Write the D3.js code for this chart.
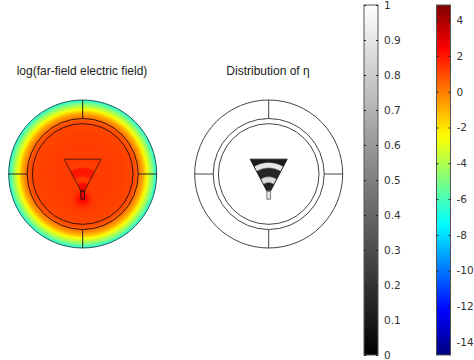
<!DOCTYPE html>
<html>
<head>
<meta charset="utf-8">
<script src="https://cdn.jsdelivr.net/npm/d3@7"></script>
<style>
  html, body { margin: 0; padding: 0; background: #fff; overflow: hidden; }
  svg { display: block; }
  .title { font-family: "Liberation Sans", Arial, sans-serif; font-size: 12px; fill: #222; }
  .tick text { font-family: "DejaVu Sans", sans-serif; font-size: 10.5px; fill: #333; }
</style>
</head>
<body>
<svg id="chart" width="474" height="360"></svg>
<script>
// chart text
const fieldTitle = 'log(far-field electric field)'
const etaTitle = 'Distribution of η'

// colour bars
const fieldTicks = [4, 2, 0, -2, -4, -6, -8, -10, -12, -14]
const etaTicks = [1, 0.9, 0.8, 0.7, 0.6, 0.5, 0.4, 0.3, 0.2, 0.1, 0]
const fieldRange = [-14.72, 4.85]
const jetColors = ['#00007f', '#0000ff', '#007fff', '#00ffff', '#7fff7f', '#ffff00', '#ff7f00', '#ff0000', '#7f0000']

const fieldRadius = [0, 0.5, 0.68, 0.72, 0.77, 0.82, 0.87, 0.93, 1]
const fieldValue = [1.25, 1.2, 1.05, 0.85, 0, -1, -2.6, -4.4, -6.8]

// hot spot under the feed, radius in disc units
const spotRadius = [0, 0.06, 0.12, 0.2]
const spotValue = [2.6, 2.2, 1.7, 1.2]
const spotOpacity = [1, 0.9, 0.5, 0]

// along the wedge: distance from the apex (wedge height = 1)
const wedgeDistance = [0, 0.24, 0.29, 0.42, 0.47, 0.7, 0.75, 0.87, 0.91, 1.02]
const wedgeField = [3, 2.1, 1.3, 1.3, 1.9, 2, 1.2, 1.2, 1.3, 1.3]
const wedgeEta = [0.12, 0.14, 0.85, 0.85, 0.15, 0.15, 0.9, 0.9, 0.1, 0.1]

// geometry, disc radius = 1
const ringRadii = [1, 0.75, 0.68]
const spokes = [[0, 1, 0, 0.75], [0, -1, 0, -0.75], [1, 0, 0.75, 0], [-1, 0, -0.75, 0]]
const wedgeX = [-0.25, 0.25, 0.025, -0.025]
const wedgeY = [0.2, 0.2, -0.23, -0.23]
const stemX = [-0.025, 0.025, 0.025, -0.025]
const stemY = [-0.23, -0.23, -0.34, -0.34]
const apex = [0, -0.23]
const wedgeHeight = 0.43

const svg = d3.select('#chart')
const defs = svg.append('defs')

defs.append('filter').attr('id', 'soft')
    .append('feGaussianBlur').attr('stdDeviation', 0.45)

let jet = d3.scaleLinear()
    .domain(jetColors.map((c, i) => fieldRange[0] + (fieldRange[1] - fieldRange[0]) * i / (jetColors.length - 1)))
    .range(jetColors)
    .clamp(true)
let gray = d3.scaleLinear().domain([0, 1]).range(['#000', '#fff'])

let addRadial = (id, cx, cy, r, offsets, colors, opacities) => {
    let g = defs.append('radialGradient')
        .attr('id', id)
        .attr('gradientUnits', 'userSpaceOnUse')
        .attr('cx', cx).attr('cy', cy).attr('r', r)
    offsets.forEach((o, i) => {
        g.append('stop')
            .attr('offset', o)
            .attr('stop-color', colors[i])
            .attr('stop-opacity', opacities ? opacities[i] : 1)
    })
}

let drawDisc = (id, centerX, title, isField) => {
    let x = d3.scaleLinear().domain([-1, 1]).range([centerX - 74, centerX + 74])
    let y = d3.scaleLinear().domain([-1, 1]).range([174 + 74, 174 - 74])
    let r = (v) => x(v) - x(0)
    let g = svg.append('g')

    g.append('text')
        .attr('class', 'title')
        .attr('x', centerX - 0.7)
        .attr('y', 75)
        .attr('text-anchor', 'middle')
        .text(title)

    if (isField) {
        addRadial(id + 'Field', x(0), y(0), r(1), fieldRadius, fieldValue.map(jet))
        g.append('circle').attr('cx', x(0)).attr('cy', y(0)).attr('r', r(1))
            .attr('fill', `url(#${id}Field)`)
        addRadial(id + 'Spot', x(apex[0]), y(stemY[2]), r(spotRadius[3]),
            spotRadius.map(d => d / spotRadius[3]), spotValue.map(jet), spotOpacity)
        g.append('circle').attr('cx', x(apex[0])).attr('cy', y(stemY[2])).attr('r', r(spotRadius[3]))
            .attr('fill', `url(#${id}Spot)`)
    }

    // wedge filled with bands centred on its apex
    let wedgePts = wedgeX.map((d, i) => [x(d), y(wedgeY[i])])
    let stemPts = stemX.map((d, i) => [x(d), y(stemY[i])])
    let bandValues = isField ? wedgeField.map(jet) : wedgeEta.map(gray)
    let lastDistance = wedgeDistance[wedgeDistance.length - 1]
    addRadial(id + 'Wedge', x(apex[0]), y(apex[1]), r(wedgeHeight * lastDistance),
        wedgeDistance.map(d => d / lastDistance), bandValues)
    g.append('polygon')
        .attr('points', wedgePts.join(' '))
        .attr('fill', `url(#${id}Wedge)`)
        .attr('filter', 'url(#soft)')
    g.append('polygon')
        .attr('points', stemPts.join(' '))
        .attr('fill', isField ? jet(wedgeField[0]) : '#e8e8e8')

    let line = isField ? '#3a1208' : '#444'
    g.selectAll('circle.ring').data(ringRadii).join('circle')
        .attr('class', 'ring')
        .attr('cx', x(0)).attr('cy', y(0))
        .attr('r', d => r(d))
        .attr('fill', 'none')
        .attr('stroke', (d, i) => (isField && i == 0) ? '#1d5a55' : line)
        .attr('stroke-width', 1)
    g.selectAll('line.spoke').data(spokes).join('line')
        .attr('class', 'spoke')
        .attr('x1', d => x(d[0])).attr('y1', d => y(d[1]))
        .attr('x2', d => x(d[2])).attr('y2', d => y(d[3]))
        .attr('stroke', isField ? '#222' : '#444')
        .attr('stroke-width', 1)
    g.append('polygon')
        .attr('points', wedgePts.join(' '))
        .attr('fill', 'none')
        .attr('stroke', isField ? '#5a1a08' : '#222')
    g.append('polygon')
        .attr('points', stemPts.join(' '))
        .attr('fill', 'none')
        .attr('stroke', isField ? '#3a0a04' : '#777')
}

let drawColorbar = (id, left, domain, ticks, colorOf) => {
    let width = 14
    let y = d3.scaleLinear().domain(domain).range([355, 5])
    let grad = defs.append('linearGradient')
        .attr('id', id)
        .attr('x1', 0).attr('y1', 1).attr('x2', 0).attr('y2', 0)
    d3.range(0, 1.001, 0.02).forEach(t => {
        grad.append('stop')
            .attr('offset', t)
            .attr('stop-color', colorOf(domain[0] + (domain[1] - domain[0]) * t))
    })
    svg.append('rect')
        .attr('x', left).attr('y', y(domain[1]))
        .attr('width', width).attr('height', y(domain[0]) - y(domain[1]))
        .attr('fill', `url(#${id})`)
        .attr('stroke', '#555')
        .attr('stroke-width', 1)

    let right = d3.axisRight(y).tickValues(ticks).tickSize(-2).tickPadding(6).tickFormat(d => String(d))
    let leftTicks = d3.axisLeft(y).tickValues(ticks).tickSize(-2).tickFormat('')
    let ga = svg.append('g').attr('transform', `translate(${left + width},0)`).call(right)
    let gb = svg.append('g').attr('transform', `translate(${left},0)`).call(leftTicks)
    ga.select('.domain').remove()
    gb.select('.domain').remove()
    ga.selectAll('line').attr('stroke', '#222')
    gb.selectAll('line').attr('stroke', '#222')
}

drawDisc('field', 82.7, fieldTitle, true)
drawDisc('eta', 268.7, etaTitle, false)
drawColorbar('etaBar', 364, [0, 1], etaTicks, gray)
drawColorbar('fieldBar', 436.5, fieldRange, fieldTicks, jet)
</script>
</body>
</html>
